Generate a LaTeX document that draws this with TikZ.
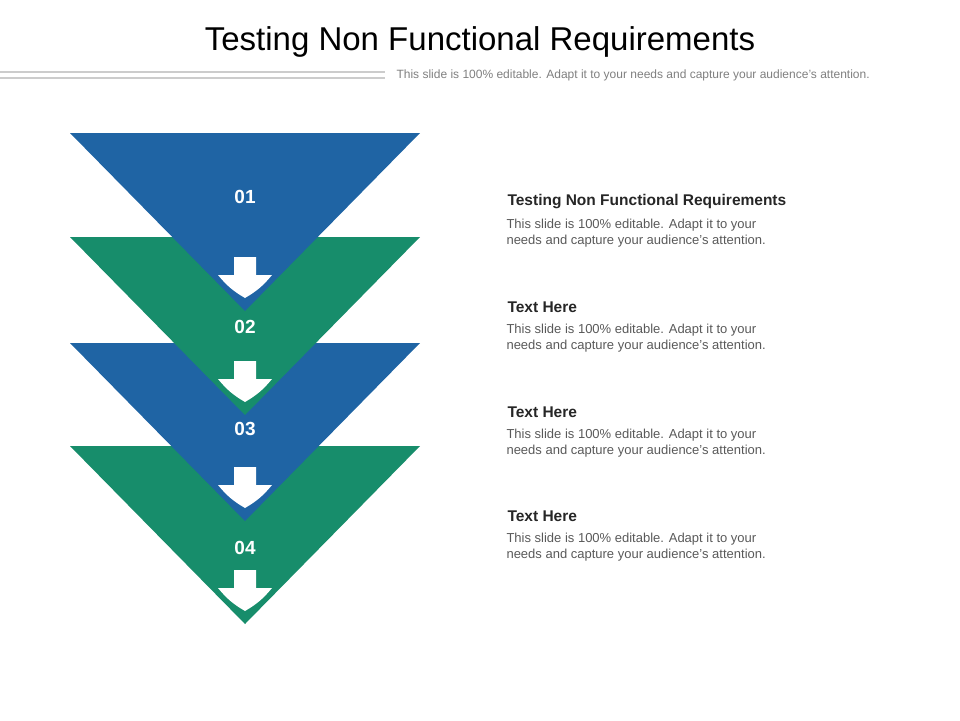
\documentclass[tikz,border=0pt]{standalone}
\usepackage{fontspec}
\setmainfont{Liberation Sans}
\definecolor{tblue}{HTML}{1F64A4}
\definecolor{tgreen}{HTML}{178D6B}
\definecolor{tgray}{HTML}{7F7F7F}
\begin{document}
\begin{tikzpicture}[x=1pt,y=-1pt,
  tri/.style={fill=#1,draw=none},
  num/.style={text=white,font=\fontsize{19}{20}\selectfont\bfseries},
  head/.style={anchor=west,font=\fontsize{15.5}{17}\selectfont\bfseries,text=black!85},
  body/.style={anchor=north west,align=left,font=\fontsize{13}{16}\selectfont,text=black!65}]
\useasboundingbox (0,0) rectangle (960,720);
\node (title) at (480,42) {\fontsize{33}{36}\selectfont Testing Non Functional Requirements};
\draw[black!20,line width=1.2] (0,72) -- (385,72) (0,78) -- (385,78);
\node[anchor=west,text=tgray,font=\fontsize{12}{14}\selectfont] (sub) at (393,75) {This slide is 100\% editable. Adapt it to your needs and capture your audience's attention.};
\foreach \i/\t/\c in {4/446/tgreen,3/343/tblue,2/237/tgreen,1/133/tblue}{
  \fill[tri=\c] (70,\t) -- (420,\t) -- (245,\t+178) -- cycle;
  \fill[white] (234,\t+124) -- (256,\t+124) -- (256,\t+142) -- (272,\t+142)
    to[bend left=10] (245,\t+165) to[bend left=10] (218,\t+142) -- (234,\t+142) -- cycle;
}
\node[num] (n1) at (245,197) {01};
\node[num] (n2) at (245,327) {02};
\node[num] (n3) at (245,429) {03};
\node[num] (n4) at (245,548) {04};
\foreach \y/\h [count=\k] in {202/Testing Non Functional Requirements,307/Text Here,412/Text Here,516/Text Here}{
  \node[head] (h\k) at (504,\y) {\h};
  \node[body] (b\k) at (503,\y+14) {This slide is 100\% editable. Adapt it to your\\needs and capture your audience's attention.};
}
\end{tikzpicture}
\end{document}
